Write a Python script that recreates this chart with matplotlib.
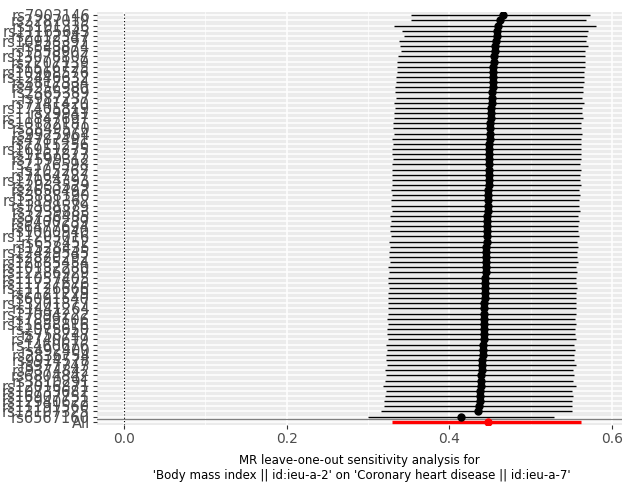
import matplotlib.pyplot as plt

# leave-one-out rows, top to bottom (last SNP row, then "All")
snps = ["rs7903146", "rs2287019", "rs3101336", "rs11165643", "rs2112347", "rs10938397", "rs543874",
        "rs1558902", "rs13078807", "rs2207139", "rs1516725", "rs10968576", "rs12446632", "rs3817334",
        "rs4256980", "rs2365389", "rs987237", "rs7141420", "rs17405819", "rs29941", "rs11847697",
        "rs10182181", "rs3849570", "rs9925964", "rs4787491", "rs7715256", "rs16951275", "rs1167827",
        "rs7599312", "rs2176598", "rs205262", "rs7164727", "rs17024393", "rs2033529", "rs2650492",
        "rs3888190", "rs13191362", "rs1808579", "rs7239883", "rs3736485", "rs9400239", "rs6477694",
        "rs1000940", "rs17203016", "rs657452", "rs1528435", "rs12429545", "rs2820292", "rs12885454",
        "rs10132280", "rs12286929", "rs11057405", "rs11727676", "rs11126666", "rs2121279", "rs6091540",
        "rs13201877", "rs1441264", "rs17094222", "rs7899106", "rs11688816", "rs2075650", "rs758747",
        "rs4740619", "rs1460676", "rs492400", "rs2836754", "rs9914578", "rs977747", "rs9374842",
        "rs6804842", "rs3810291", "rs12016871", "rs10733682", "rs16907751", "rs12940622", "rs11191560",
        "rs13107325", "rs6567160"]
b = [0.466, 0.462, 0.460, 0.459, 0.458, 0.457, 0.456, 0.456, 0.455, 0.455,
     0.454, 0.454, 0.453, 0.453, 0.453, 0.452, 0.452, 0.452, 0.451, 0.451,
     0.451, 0.450, 0.450, 0.450, 0.450, 0.449, 0.449, 0.449, 0.449, 0.448,
     0.448, 0.448, 0.448, 0.448, 0.447, 0.447, 0.447, 0.447, 0.447, 0.446,
     0.446, 0.446, 0.446, 0.446, 0.446, 0.445, 0.445, 0.445, 0.445, 0.445,
     0.445, 0.444, 0.444, 0.444, 0.444, 0.444, 0.443, 0.443, 0.443, 0.443,
     0.442, 0.442, 0.442, 0.442, 0.441, 0.441, 0.441, 0.440, 0.440, 0.440,
     0.439, 0.439, 0.439, 0.438, 0.438, 0.437, 0.436, 0.435, 0.414]
lo = [0.353, 0.353, 0.332, 0.342, 0.344, 0.338, 0.339, 0.340, 0.337, 0.336,
      0.335, 0.335, 0.334, 0.334, 0.333, 0.333, 0.334, 0.332, 0.333, 0.332,
      0.332, 0.331, 0.331, 0.332, 0.330, 0.331, 0.330, 0.330, 0.331, 0.329,
      0.330, 0.329, 0.329, 0.330, 0.328, 0.329, 0.328, 0.328, 0.329, 0.327,
      0.328, 0.327, 0.327, 0.328, 0.326, 0.327, 0.326, 0.326, 0.327, 0.325,
      0.326, 0.325, 0.325, 0.326, 0.324, 0.325, 0.324, 0.324, 0.325, 0.323,
      0.324, 0.323, 0.323, 0.324, 0.322, 0.323, 0.322, 0.322, 0.323, 0.321,
      0.322, 0.321, 0.319, 0.322, 0.321, 0.320, 0.320, 0.316, 0.300]
hi = [0.572, 0.568, 0.580, 0.570, 0.569, 0.568, 0.570, 0.566, 0.567, 0.566,
      0.566, 0.565, 0.565, 0.565, 0.564, 0.564, 0.563, 0.565, 0.563, 0.563,
      0.564, 0.562, 0.562, 0.563, 0.561, 0.562, 0.561, 0.561, 0.562, 0.560,
      0.561, 0.560, 0.560, 0.561, 0.559, 0.560, 0.559, 0.559, 0.560, 0.558,
      0.559, 0.558, 0.558, 0.559, 0.557, 0.558, 0.557, 0.557, 0.558, 0.556,
      0.557, 0.556, 0.556, 0.557, 0.555, 0.556, 0.555, 0.555, 0.556, 0.554,
      0.555, 0.554, 0.554, 0.555, 0.553, 0.554, 0.553, 0.553, 0.555, 0.552,
      0.553, 0.552, 0.556, 0.551, 0.552, 0.551, 0.551, 0.551, 0.528]
all_b, all_lo, all_hi = 0.447, 0.330, 0.562

n = len(snps)
fig = plt.figure(figsize=(6.29, 4.86), dpi=100)
ax = fig.add_axes([0.154, 0.126, 0.835, 0.849])
ax.set_facecolor("#EBEBEB")

ys = [n - i + 1 for i in range(n)]  # SNP rows above "All" at y=1
ax.hlines(ys, lo, hi, color="black", lw=1.0, zorder=3)
ax.plot(b, ys, "o", color="black", ms=5, zorder=4)
ax.hlines(1, all_lo, all_hi, color="red", lw=2.4, zorder=3)
ax.plot(all_b, 1, "o", color="red", ms=5, zorder=4)
ax.axvline(0, color="black", ls=(0, (1, 2)), lw=0.8, zorder=2)
ax.axhline(1.5, color="grey", lw=0.8, zorder=2)

ax.set_yticks([1] + ys)
ax.set_yticklabels(["All"] + snps, fontsize=10.5, color="#4D4D4D")
ax.set_ylim(0.4, n + 1.6)
ax.set_xlim(-0.033, 0.612)
ax.set_xticks([0.0, 0.2, 0.4, 0.6])
ax.set_xticklabels(["0.0", "0.2", "0.4", "0.6"], fontsize=10, color="#4D4D4D")
ax.set_xticks([0.1, 0.3, 0.5], minor=True)
ax.grid(True, which="major", color="white", lw=1.1)
ax.grid(True, which="minor", axis="x", color="white", lw=0.5)
ax.set_axisbelow(True)
for s in ax.spines.values():
    s.set_visible(False)
ax.tick_params(axis="both", length=3, color="#333333", pad=2)
ax.tick_params(which="minor", length=0)
ax.set_xlabel("MR leave-one-out sensitivity analysis for\n 'Body mass index || id:ieu-a-2' on 'Coronary heart disease || id:ieu-a-7'",
              fontsize=8.5, labelpad=6)
fig.savefig("out.png", dpi=100)
